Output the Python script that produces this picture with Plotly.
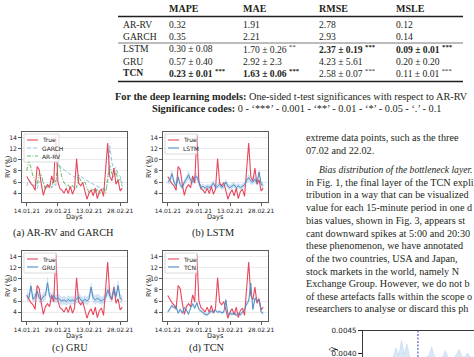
import plotly.graph_objects as go
import pandas as pd

W, H = 474, 357
SERIF = "Liberation Serif"
SANS = "DejaVu Sans"
TXT = "#231f20"

# ---------------- table data ----------------
metric_names = ["MAPE", "MAE", "RMSE", "MSLE"]
model_names = ["AR-RV", "GARCH", "LSTM", "GRU", "TCN"]
model_bold = [False, False, False, False, True]
mape_vals = ["0.32", "0.35", "0.30 ± 0.08", "0.57 ± 0.40", "0.23 ± 0.01"]
mae_vals = ["1.91", "2.21", "1.70 ± 0.26", "2.92 ± 2.3", "1.63 ± 0.06"]
rmse_vals = ["2.78", "2.93", "2.37 ± 0.19", "4.23 ± 5.61", "2.58 ± 0.07"]
msle_vals = ["0.12", "0.14", "0.09 ± 0.01", "0.20 ± 0.20", "0.11 ± 0.01"]
mape_sig = ["", "", "", "", "***"]
mae_sig = ["", "", "**", "", "***"]
rmse_sig = ["", "", "***", "", "***"]
msle_sig = ["", "", "***", "", "***"]
mape_bold = [False, False, False, False, True]
mae_bold = [False, False, False, False, True]
rmse_bold = [False, False, True, False, False]
msle_bold = [False, False, True, False, False]
caption_bold = ["For the deep learning models:", "Significance codes:"]
caption_rest = [" One-sided t-test significances with respect to AR-RV",
                " 0 - ‘***’ - 0.001 - ‘**’ - 0.01 - ‘*’ - 0.05 - ‘.’ - 0.1"]

# ---------------- time series data ----------------
dates = pd.date_range("2021-01-14", "2021-03-01", freq="D")
tick_dates = ["2021-01-14", "2021-01-29", "2021-02-13", "2021-02-28"]
tick_text = ["14.01.21", "29.01.21", "13.02.21", "28.02.21"]
y_ticks = [4, 6, 8, 10, 12, 14]

true_rv = [7.0, 6.2, 5.7, 5.3, 4.5, 8.8, 8.2, 5.6, 3.6, 5.0,
           5.5, 5.0, 7.1, 5.8, 14.5, 6.0, 4.8, 4.5, 4.0, 4.9,
           3.9, 5.2, 3.8, 4.7, 10.2, 5.8, 5.3, 5.9, 4.3, 2.9,
           4.0, 4.6, 3.5, 4.9, 3.0, 4.3, 4.7, 3.4, 8.3, 13.0,
           7.0, 6.2, 8.5, 5.6, 6.4, 4.4, 4.9]
garch = [5.3, 6.4, 6.0, 5.6, 5.2, 4.8, 6.0, 6.4, 5.9, 5.2,
         5.0, 5.0, 4.9, 5.6, 5.4, 9.2, 8.8, 8.5, 8.2, 7.9,
         7.6, 7.4, 7.1, 6.9, 6.6, 7.3, 7.0, 6.7, 6.5, 6.3,
         6.0, 5.8, 5.6, 5.4, 5.2, 5.0, 4.8, 4.7, 4.5, 5.6,
         12.5, 9.5, 8.3, 8.6, 7.4, 7.0, 5.7]
ar_rv = [8.0, 10.0, 8.6, 7.0, 6.3, 5.4, 7.6, 7.3, 5.8, 4.6,
         5.3, 5.5, 5.2, 6.6, 6.0, 9.4, 8.6, 6.8, 5.9, 5.2,
         5.5, 4.8, 5.4, 4.6, 5.0, 7.2, 6.2, 5.8, 6.0, 5.0,
         4.0, 4.4, 4.7, 4.0, 4.8, 3.8, 4.5, 4.8, 4.0, 6.8,
         9.0, 7.5, 6.8, 8.0, 6.2, 6.5, 5.2]
lstm = [6.0, 6.3, 7.5, 6.0, 5.3, 6.9, 5.5, 5.0, 6.0, 6.5,
        7.3, 6.3, 6.0, 6.8, 7.0, 5.8, 5.0, 5.2, 4.9, 5.2,
        5.0, 5.3, 5.8, 5.0, 5.2, 5.6, 5.0, 5.3, 6.0, 5.2,
        5.0, 5.3, 5.5, 5.0, 5.3, 5.0, 5.2, 5.5, 6.3, 6.8,
        6.2, 6.0, 6.5, 5.8, 7.8, 5.6, 5.4]
lstm_std = [0.5, 0.6, 0.8, 0.6, 0.5, 0.7, 0.5, 0.5, 0.6, 0.6,
            0.8, 0.6, 0.6, 0.7, 0.7, 0.6, 0.5, 0.5, 0.5, 0.5,
            0.5, 0.5, 0.6, 0.5, 0.5, 0.6, 0.5, 0.5, 0.6, 0.5,
            0.5, 0.5, 0.5, 0.5, 0.5, 0.5, 0.5, 0.5, 0.6, 0.7,
            0.6, 0.6, 0.6, 0.6, 0.8, 0.6, 0.5]
gru = [7.0, 6.5, 8.7, 6.3, 6.8, 7.8, 6.5, 6.2, 6.8, 7.0,
       9.3, 6.8, 6.5, 7.0, 6.3, 6.6, 6.2, 6.0, 6.2, 5.9,
       6.3, 6.0, 6.2, 6.0, 6.3, 6.8, 6.2, 6.0, 6.3, 6.0,
       6.4, 8.5, 6.5, 6.2, 6.5, 6.3, 6.0, 6.3, 6.6, 8.0,
       7.0, 6.5, 8.2, 6.8, 8.8, 6.5, 6.2]
gru_std = [0.8, 0.8, 1.1, 0.8, 0.8, 1.0, 0.8, 0.8, 0.8, 0.9,
           1.2, 0.9, 0.8, 0.9, 0.8, 0.8, 0.8, 0.7, 0.8, 0.7,
           0.8, 0.7, 0.8, 0.7, 0.8, 0.9, 0.8, 0.7, 0.8, 0.7,
           0.8, 1.1, 0.8, 0.8, 0.8, 0.8, 0.7, 0.8, 0.8, 1.0,
           0.9, 0.8, 1.0, 0.9, 1.2, 0.8, 0.8]
tcn = [4.0, 4.5, 5.2, 4.8, 5.0, 3.8, 4.5, 3.8, 4.8, 4.4,
       3.6, 4.8, 5.5, 4.7, 5.7, 4.5, 4.2, 3.8, 3.6, 3.5,
       3.8, 4.2, 4.0, 4.3, 4.0, 4.1, 3.9, 4.0, 6.2, 3.5,
       3.8, 3.6, 3.9, 3.4, 3.8, 3.5, 4.0, 4.5, 5.5, 6.0,
       9.2, 4.5, 6.5, 6.0, 6.3, 4.0, 3.8]
tcn_std = [0.3, 0.3, 0.4, 0.3, 0.3, 0.3, 0.3, 0.3, 0.3, 0.3,
           0.3, 0.3, 0.4, 0.3, 0.4, 0.3, 0.3, 0.3, 0.3, 0.3,
           0.3, 0.3, 0.3, 0.3, 0.3, 0.3, 0.3, 0.3, 0.5, 0.3,
           0.3, 0.3, 0.3, 0.3, 0.3, 0.3, 0.3, 0.3, 0.4, 0.4,
           0.6, 0.3, 0.4, 0.4, 0.4, 0.3, 0.3]

panel_captions = ["(a) AR-RV and GARCH", "(b) LSTM", "(c) GRU", "(d) TCN"]

# bottleneck-bias chart (only its top-left corner is visible)
bias_hours = [k * 0.25 for k in range(41)]
bias_upper = [0.00388, 0.00388, 0.00388, 0.00388, 0.00388, 0.00388, 0.00388, 0.00388,
              0.00388, 0.00388, 0.00388, 0.00390, 0.00412, 0.00395, 0.00428, 0.00398,
              0.00420, 0.00392, 0.00388, 0.00388, 0.00388, 0.00388, 0.00388, 0.00390,
              0.00395, 0.00413, 0.00392, 0.00388, 0.00388, 0.00392, 0.00405, 0.00390,
              0.00388, 0.00390, 0.00396, 0.00408, 0.00392, 0.00390, 0.00400, 0.00392,
              0.00388]
bias_marker_hour = 5.0
bias_ticks = [0.0040, 0.0045]

paragraph = [
    ("extreme data points, such as the three", 305, 138, False),
    ("07.02 and 22.02.", 305, 150.5, False),
    ("Bias distribution of the bottleneck layer.", 318, 169.5, True),
    ("in Fig. 1, the final layer of the TCN expli", 305, 182, False),
    ("tribution in a way that can be visualized", 305, 195, False),
    ("value for each 15-minute period in one d", 305, 207.5, False),
    ("bias values, shown in Fig. 3, appears st", 305, 220, False),
    ("cant downward spikes at 5:00 and 20:30", 305, 233, False),
    ("these phenomenon, we have annotated", 305, 245.5, False),
    ("of the two countries, USA and Japan,", 305, 258, False),
    ("stock markets in the world, namely N", 305, 271, False),
    ("Exchange Group. However, we do not b", 305, 283.5, False),
    ("of these artefacts falls within the scope o", 305, 296, False),
    ("researchers to analyse or discard this ph", 305, 308.5, False),
]

# ---------------- helpers ----------------
def px(x):
    return x / W


def py(y):
    return 1 - y / H


def ann(text, x, y, size, family=SERIF, xanchor="left", angle=0, color=TXT):
    return dict(text=text, x=px(x), y=py(y), xref="paper", yref="paper",
                xanchor=xanchor, yanchor="middle", showarrow=False,
                textangle=angle, borderpad=0,
                font=dict(family=family, size=size, color=color))


def hline(x0, x1, y, width, color=TXT):
    return dict(type="line", xref="paper", yref="paper", x0=px(x0), x1=px(x1),
                y0=py(y), y1=py(y), line=dict(color=color, width=width))


TRUE_C = "#e6475c"
GARCH_C = "#8ec4e2"
ARRV_C = "#5fbf6a"
MODEL_C = "#4d8cc4"
BAND_C = "rgba(120,175,225,0.35)"
GARCH_DASH = "4px,2px"
ARRV_DASH = "4px,1.5px,1px,1.5px"

fig = go.Figure()
annotations = []
shapes = []

# ---------------- table ----------------
col_x = [168, 242, 318, 395]
row_y = [25, 37, 49, 61, 73]
TS = 9.6
for name, cx in zip(metric_names, col_x):
    annotations.append(ann(f"<b>{name}</b>", cx, 8, TS + 0.4))
for name, b, ry in zip(model_names, model_bold, row_y):
    annotations.append(ann(f"<b>{name}</b>" if b else name, 122, ry, TS))
cols = [(mape_vals, mape_sig, mape_bold), (mae_vals, mae_sig, mae_bold),
        (rmse_vals, rmse_sig, rmse_bold), (msle_vals, msle_sig, msle_bold)]
for (vals, sigs, bolds), cx in zip(cols, col_x):
    for v, s, b, ry in zip(vals, sigs, bolds, row_y):
        t = v + (f" <sup>{s}</sup>" if s else "")
        if b:
            t = f"<b>{t}</b>"
        annotations.append(ann(t, cx, ry, TS))
shapes += [hline(118, 463, 16.5, 1.3), hline(118, 463, 43, 0.6), hline(118, 463, 81.5, 1.3)]
annotations.append(ann(f"<b>{caption_bold[0]}</b>{caption_rest[0]}", 291, 96.5, 10.3, xanchor="center"))
annotations.append(ann(f"<b>{caption_bold[1]}</b>{caption_rest[1]}", 297, 108.5, 10.3, xanchor="center"))

# ---------------- paragraph ----------------
for text, x, y, ital in paragraph:
    if ital:
        annotations.append(ann(f"<i>{text}</i>", x, y, 9.6))
    else:
        annotations.append(ann(text, x, y, 10.2))

# ---------------- four panels ----------------
span = dates[-1] - dates[0]
x_range = [dates[0] - span * 0.05, dates[-1] + span * 0.05]
y_range = [2.4, 15.0]

panels = [  # (x0, x1, ytop, ybottom) in pixels
    (22, 127, 132, 202),
    (163, 268, 132, 202),
    (22, 127, 251, 321),
    (163, 268, 251, 321),
]


def add_line(idx, y, color, width, dash="solid"):
    fig.add_trace(go.Scatter(x=dates, y=y, mode="lines", showlegend=False,
                             line=dict(color=color, width=width, dash=dash),
                             xaxis=f"x{idx}", yaxis=f"y{idx}", hoverinfo="skip"))


def add_band(idx, mean, std):
    up = [m + s for m, s in zip(mean, std)]
    lo = [m - s for m, s in zip(mean, std)]
    fig.add_trace(go.Scatter(x=dates, y=up, mode="lines", line=dict(width=0),
                             showlegend=False, xaxis=f"x{idx}", yaxis=f"y{idx}", hoverinfo="skip"))
    fig.add_trace(go.Scatter(x=dates, y=lo, mode="lines", line=dict(width=0),
                             fill="tonexty", fillcolor=BAND_C, showlegend=False,
                             xaxis=f"x{idx}", yaxis=f"y{idx}", hoverinfo="skip"))


# panel a
add_line(1, garch, GARCH_C, 1.0, GARCH_DASH)
add_line(1, ar_rv, ARRV_C, 1.0, ARRV_DASH)
add_line(1, true_rv, TRUE_C, 1.1)
# panels b, c, d
for idx, (mean, std) in zip([2, 3, 4], [(lstm, lstm_std), (gru, gru_std), (tcn, tcn_std)]):
    add_band(idx, mean, std)
    add_line(idx, true_rv, TRUE_C, 1.1)
    add_line(idx, mean, MODEL_C, 1.0)

legend_entries = [
    [("True", TRUE_C, "solid"), ("GARCH", GARCH_C, GARCH_DASH), ("AR-RV", ARRV_C, ARRV_DASH)],
    [("True", TRUE_C, "solid"), ("LSTM", MODEL_C, "solid")],
    [("True", TRUE_C, "solid"), ("GRU", MODEL_C, "solid")],
    [("True", TRUE_C, "solid"), ("TCN", MODEL_C, "solid")],
]

layout_axes = {}
for i, (x0, x1, yt, yb) in enumerate(panels):
    n = i + 1
    xs = "" if n == 1 else str(n)
    layout_axes[f"xaxis{xs}"] = dict(
        domain=[px(x0), px(x1)], anchor=f"y{n}", type="date", range=x_range,
        tickvals=tick_dates, ticktext=tick_text, ticks="outside", ticklen=3,
        tickwidth=0.8, tickcolor="#333", showgrid=False, zeroline=False,
        showline=True, mirror=True, linecolor="#333", linewidth=0.8, automargin=False,
        tickfont=dict(family=SANS, size=5.9, color="#222"))
    layout_axes[f"yaxis{xs}"] = dict(
        domain=[py(yb), py(yt)], anchor=f"x{n}", range=y_range, tickvals=y_ticks,
        ticks="outside", ticklen=3, tickwidth=0.8, tickcolor="#333",
        showgrid=True, gridcolor="#dedede", gridwidth=0.6, zeroline=False,
        showline=True, mirror=True, linecolor="#333", linewidth=0.8, automargin=False,
        tickfont=dict(family=SANS, size=6.1, color="#222"))
    # axis titles
    annotations.append(ann("RV (%)", x0 - 14, (yt + yb) / 2, 6.6, family=SANS,
                           xanchor="center", angle=-90, color="#222"))
    annotations.append(ann("Days", (x0 + x1) / 2, yb + 15, 6.6, family=SANS,
                           xanchor="center", color="#222"))
    # caption
    cap_x = [64, 213, 70, 207][i]
    annotations.append(ann(panel_captions[i], cap_x, yb + 31 if i < 2 else yb + 27, 10.3,
                           xanchor="center"))
    # legend box
    ents = legend_entries[i]
    bw = 35 if i == 0 else 32
    bh = 4 + 8 * len(ents)
    shapes.append(dict(type="rect", xref="paper", yref="paper",
                       x0=px(x0 + 2), x1=px(x0 + 2 + bw), y0=py(yt + 2 + bh), y1=py(yt + 2),
                       line=dict(color="#cccccc", width=0.7), fillcolor="rgba(255,255,255,0.85)"))
    for k, (lab, col, dash) in enumerate(ents):
        ey = yt + 8 + 8 * k
        shapes.append(dict(type="line", xref="paper", yref="paper",
                           x0=px(x0 + 5), x1=px(x0 + 16), y0=py(ey), y1=py(ey),
                           line=dict(color=col, width=1.1, dash=dash)))
        annotations.append(ann(lab, x0 + 19, ey, 6.0, family=SANS, color="#222"))

# ---------------- bias chart corner ----------------
fig.add_trace(go.Scatter(x=bias_hours, y=bias_upper, mode="lines", fill="tozeroy",
                         fillcolor="rgba(150,190,230,0.35)",
                         line=dict(color="rgba(150,190,230,0.5)", width=0.6),
                         showlegend=False, xaxis="x5", yaxis="y5", hoverinfo="skip"))
layout_axes["xaxis5"] = dict(domain=[px(363), 1], anchor="y5", range=[0, 10.1], side="top",
                             showline=True, linecolor="#222", linewidth=0.9, automargin=False,
                             showticklabels=False, ticks="", showgrid=False, zeroline=False)
layout_axes["yaxis5"] = dict(domain=[0, py(330.5)], anchor="x5", range=[0.003911, 0.004505],
                             tickvals=bias_ticks, tickformat=".4f", ticks="outside", ticklen=4,
                             tickcolor="#222", showline=True, linecolor="#222", linewidth=0.9,
                             showgrid=False, zeroline=False, automargin=False,
                             ticklabeloverflow="allow",
                             tickfont=dict(family=SANS, size=7.2, color="#222"))
shapes.append(dict(type="line", xref="x5", yref="y5 domain", x0=bias_marker_hour,
                   x1=bias_marker_hour, y0=0, y1=1,
                   line=dict(color="#3b3bbf", width=1, dash="2px,1.5px")))
annotations.append(ann("ŷ", 333, 349, 9, family=SANS, xanchor="center", angle=-90, color="#222"))

fig.update_layout(
    template="none",
    width=W, height=H, margin=dict(l=0, r=0, t=0, b=0, pad=0),
    paper_bgcolor="white", plot_bgcolor="white",
    annotations=annotations, shapes=shapes, **layout_axes,
)
fig.write_html(
    "out.html",
    config={"displayModeBar": False, "staticPlot": True},
    post_script="document.body.style.margin='0';document.body.style.padding='0';"
                "document.body.style.overflow='hidden';",
)
